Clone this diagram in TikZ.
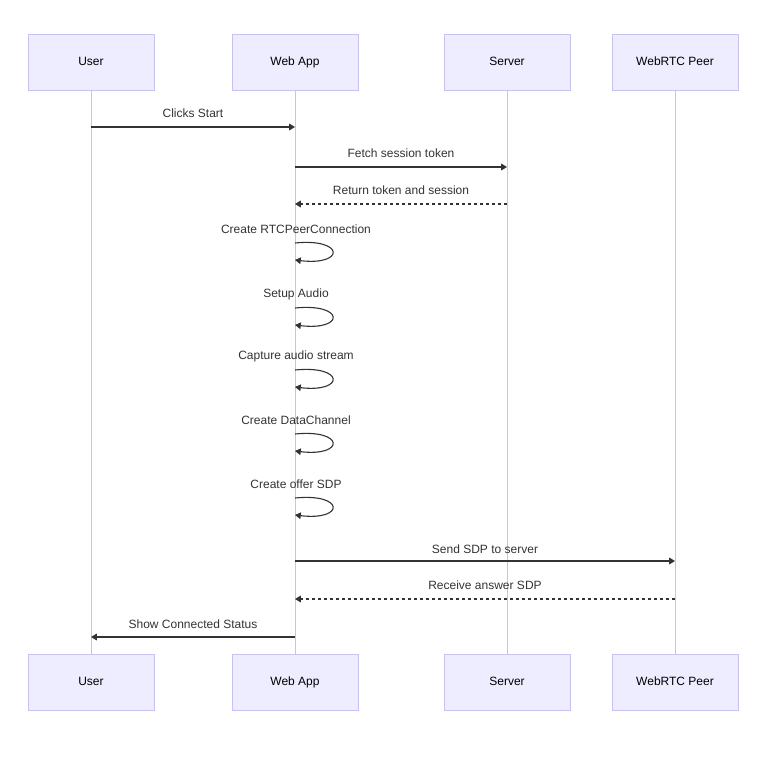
\documentclass[tikz,border=0pt]{standalone}
\usepackage{fontspec}
\setmainfont{Liberation Sans}
\usetikzlibrary{arrows.meta}
\tikzset{>=Triangle}
\colorlet{boxfill}{blue!7}
\definecolor{boxline}{HTML}{C8C2F0}
\definecolor{msgcol}{HTML}{333333}
\tikzset{
  actor/.style={draw=boxline,fill=boxfill,minimum width=126pt,minimum height=56pt,text height=1.5ex,text depth=.25ex,font=\fontsize{12}{14}\selectfont},
  life/.style={draw=boxline,line width=1pt},
  msg/.style={->,msgcol,line width=1.1pt},
  reply/.style={msg,dashed},
  lbl/.style={font=\fontsize{12}{14}\selectfont,text=msgcol}
}
\begin{document}
\begin{tikzpicture}[x=1pt,y=-1pt]
	\useasboundingbox (0,0) rectangle (768,760);
	% ACTORS
	\foreach \n/\x/\t in {u/91/User,w/295/Web App,s/507/Server,p/675/WebRTC Peer}{
		\draw[life] (\x,90) -- (\x,655);
		\node[actor] (\n top) at (\x,62) {\t};
		\node[actor] (\n bot) at (\x,682) {\t};
		\coordinate (\n) at (\x,0);
	}
	% MESSAGES
	\draw[msg] (u |- 0,127) -- (w |- 0,127);
	\node[lbl] (m1) at (193,113) {Clicks Start};
	\draw[msg] (w |- 0,167) -- (s |- 0,167);
	\node[lbl] (m2) at (401,153) {Fetch session token};
	\draw[reply] (s |- 0,204) -- (w |- 0,204);
	\node[lbl] (m3) at (401,190) {Return token and session};
	% SELF CALLS
	\foreach \y/\t in {229/Create RTCPeerConnection,294/Setup Audio,356/Capture audio stream,420/Create DataChannel,484/Create offer SDP}{
		\node[lbl] at (296,\y) {\t};
		\draw[msg] (295,\y+14) .. controls (345,\y+9) and (345,\y+37) .. (295,\y+31);
	}
	\draw[msg] (w |- 0,561) -- (p |- 0,561);
	\node[lbl] (m4) at (485,549) {Send SDP to server};
	\draw[reply] (p |- 0,599) -- (w |- 0,599);
	\node[lbl] (m5) at (485,585) {Receive answer SDP};
	\draw[msg] (w |- 0,637) -- (u |- 0,637);
	\node[lbl] (m6) at (193,624) {Show Connected Status};
\end{tikzpicture}
\end{document}
